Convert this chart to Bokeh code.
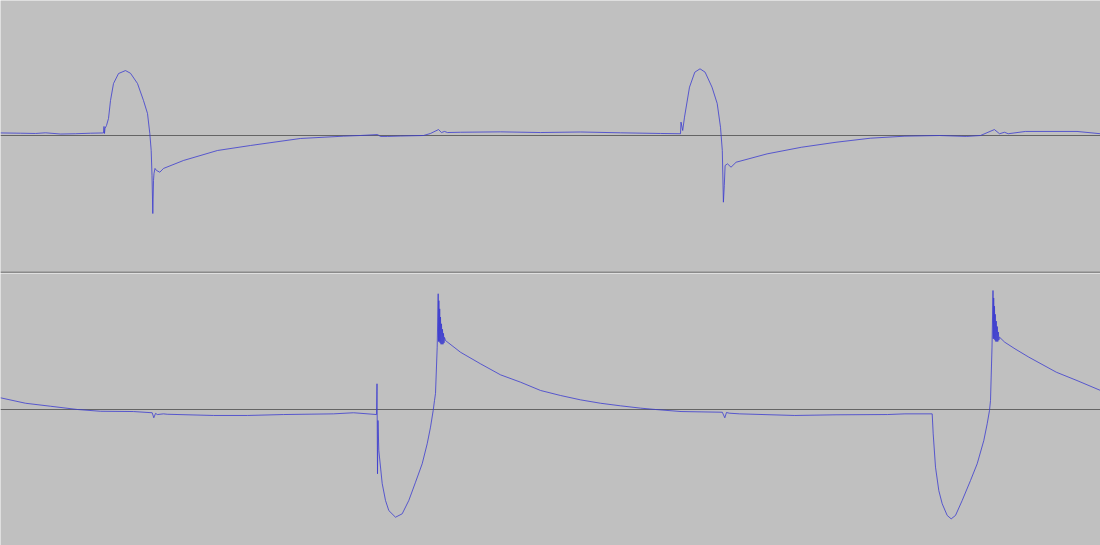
from bokeh.plotting import figure
from bokeh.models import Range1d, Span
from bokeh.layouts import column
from bokeh.embed import file_html
from bokeh.resources import INLINE

# Channel 1 (top): time (sample position) and amplitude (-1..1)
top_t = [0, 20, 35, 45, 60, 75, 90, 103, 103.5, 104, 104.5, 106, 108, 110, 113, 118, 125, 130,
         137, 143, 147, 149.3, 150.7, 151.5, 152.3, 153, 153.5, 154.5, 156, 159.3, 163, 183, 217,
         250, 300, 343, 360, 377, 380, 387, 400, 423, 430, 438, 441, 444, 447, 460, 500, 540, 580,
         620, 660, 680, 680.5, 682.2, 684, 689, 694.3, 699.5, 704.6, 711.5, 716.7, 720, 721.8,
         722.9, 723.8, 724.6, 727, 730.5, 735.6, 766.6, 801, 835.5, 870, 904.4, 938.8, 966, 980,
         993.9, 999, 1004, 1007.7, 1024.9, 1076.5, 1100]
top_amp = [0.019, 0.017, 0.015, 0.020, 0.011, 0.013, 0.017, 0.019, 0.067, 0.015, 0.052, 0.074,
           0.126, 0.259, 0.385, 0.459, 0.481, 0.461, 0.385, 0.259, 0.163, 0.015, -0.111, -0.296,
           -0.578, -0.333, -0.281, -0.244, -0.259, -0.272, -0.244, -0.185, -0.111, -0.074, -0.022,
           -0.005, 0.0, 0.007, -0.007, -0.007, -0.004, 0.0, 0.015, 0.044, 0.022, 0.030, 0.022,
           0.024, 0.027, 0.022, 0.026, 0.020, 0.015, 0.013, 0.099, 0.037, 0.136, 0.358, 0.469,
           0.494, 0.469, 0.358, 0.237, 0.061, -0.111, -0.494, -0.370, -0.222, -0.210, -0.235,
           -0.198, -0.136, -0.087, -0.050, -0.020, -0.005, 0.0, -0.007, 0.0, 0.044, 0.013, 0.024,
           0.013, 0.030, 0.030, 0.013]

# Channel 2 (bottom)
bot_t = [0, 25, 50, 77, 100, 133, 151.7, 153.3, 155, 157, 163, 166.7, 213, 247, 283, 333, 353,
         376, 376.5, 377, 377.5, 378.3, 381.7, 385, 388.3, 395, 401.7, 408.3, 415, 421.7, 426.7,
         430, 432.7, 434, 435, 436.7, 437.7, 438.0, 438.4, 438.8, 439.2, 439.6, 440.0, 440.5,
         441.0, 441.5, 442.0, 442.5, 443.0, 443.5, 444.0, 445, 460, 480, 500, 520, 540, 560, 580,
         600, 620, 640, 655, 680.5, 721.8, 724.3, 726, 728.7, 739, 794.2, 835.5, 887,
         904.4, 928.5, 931.7, 932.7, 935, 938.3, 941.7, 946.7, 950.7, 955, 961.7, 970, 976.7,
         983.3, 986.7, 989, 990, 991.5, 992.5, 992.8, 993.2, 993.6, 994.0, 994.4, 994.8, 995.3,
         995.8, 996.3, 996.8, 997.3, 997.8, 998.3, 999, 1004.2, 1014.5,
         1028.3, 1055.9, 1076.5, 1100]
bot_amp = [0.086, 0.046, 0.024, 0.0, -0.013, -0.015, -0.024, -0.061, -0.029, -0.037, -0.032,
           -0.035, -0.044, -0.044, -0.037, -0.032, -0.024, -0.037, 0.189, -0.473, -0.081, -0.301,
           -0.544, -0.669, -0.743, -0.792, -0.767, -0.669, -0.535, -0.399, -0.252, -0.130, -0.007,
           0.066, 0.118, 0.458, 0.851, 0.50, 0.80, 0.50, 0.74, 0.49, 0.68, 0.48, 0.63, 0.48, 0.59,
           0.48, 0.56, 0.49, 0.53, 0.507, 0.421, 0.336, 0.255, 0.201, 0.140, 0.103, 0.071, 0.046,
           0.027, 0.010, 0.0, -0.015, -0.020, -0.061, -0.022, -0.027,
           -0.032, -0.044, -0.039, -0.037, -0.032, -0.032, -0.032, -0.179, -0.424, -0.596, -0.693,
           -0.779, -0.804, -0.779, -0.669, -0.522, -0.399, -0.228, -0.105, -0.007, 0.066, 0.458,
           0.875, 0.52, 0.82, 0.52, 0.76, 0.51, 0.70, 0.50, 0.65, 0.50, 0.61, 0.50, 0.57, 0.51,
           0.532, 0.495, 0.446, 0.385, 0.274, 0.213, 0.140]

BG = "#c0c0c0"
WAVE = "#3c3cd0"


def make_panel(t, amp, height, y_start, sep):
    p = figure(width=1100, height=height, output_backend="svg", toolbar_location=None,
               x_range=Range1d(0, 1100), y_range=Range1d(y_start, 1),
               x_axis_location=None, y_axis_location=None, min_border=0)
    p.background_fill_color = BG
    p.border_fill_color = BG
    p.outline_line_color = None
    p.grid.visible = False
    p.add_layout(Span(location=0, dimension="width", line_color="#646464",
                      line_width=1, level="underlay"))
    if sep is not None:
        p.add_layout(Span(location=sep, dimension="width", line_color="#8a8a8a",
                          line_width=2, level="underlay"))
    p.line(t, amp, line_color=WAVE, line_alpha=0.8, line_width=1)
    return p


top = make_panel(top_t, top_amp, 273, -1.0222, -1.0148)
bottom = make_panel(bot_t, bot_amp, 272, -1.0, None)

layout = column(top, bottom, spacing=0)
open("out.html", "w").write(file_html(layout, INLINE))
